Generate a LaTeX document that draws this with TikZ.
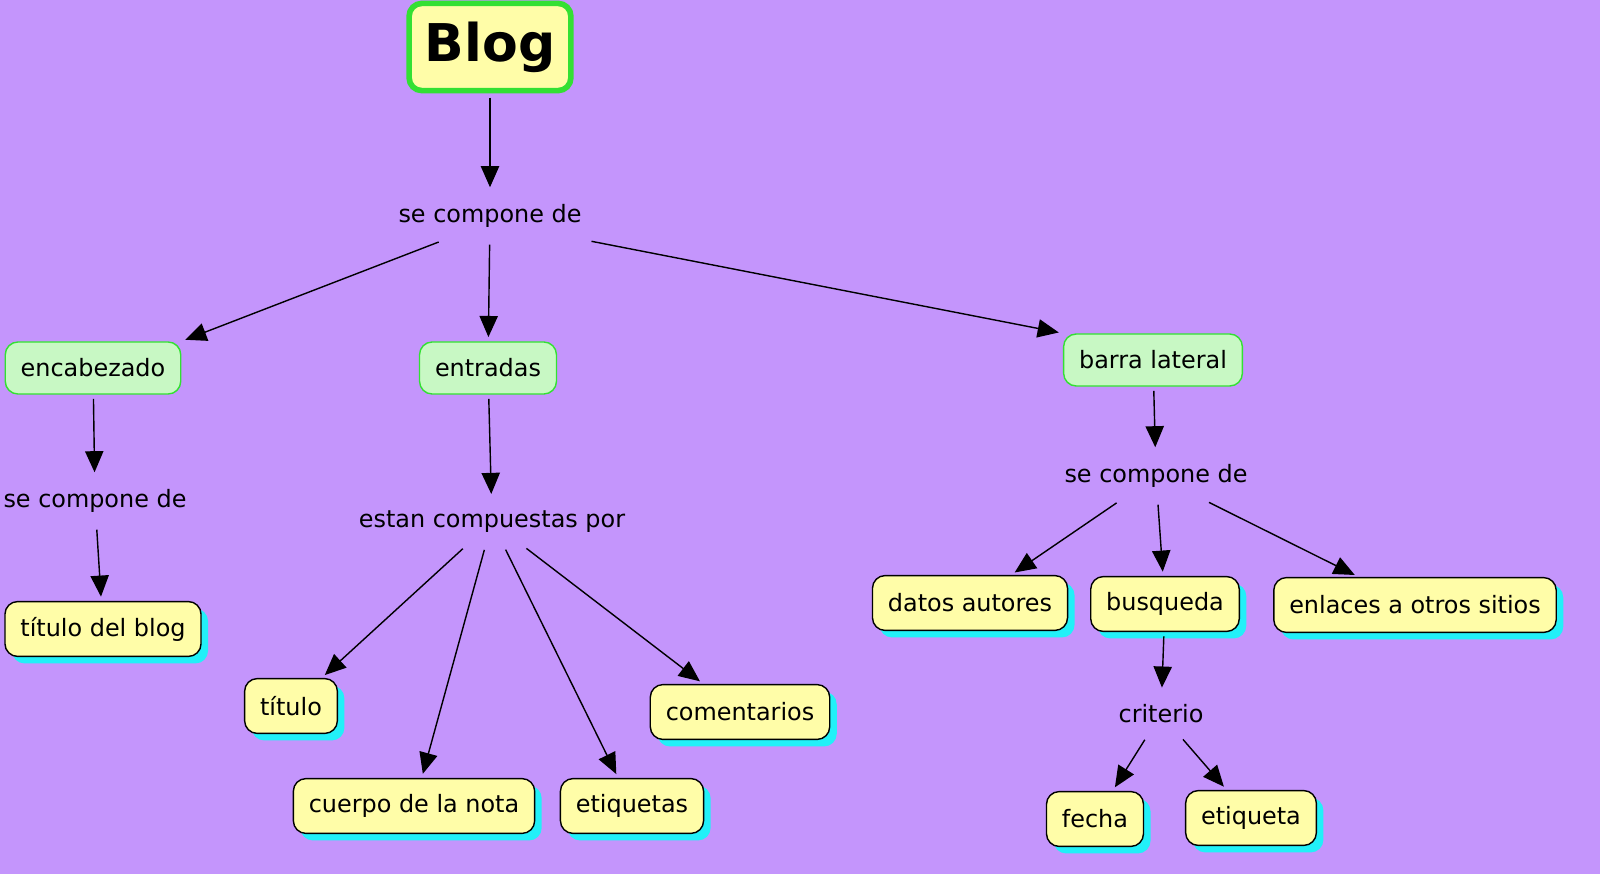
\documentclass[tikz,border=0pt]{standalone}
\usepackage{fontspec}
\setmainfont{DejaVu Sans}
\usetikzlibrary{arrows.meta,shadows}
\definecolor{bg}{HTML}{C495FC}
\definecolor{yel}{HTML}{FFFDA8}
\definecolor{lgreen}{HTML}{C8F8C4}
\definecolor{bgreen}{HTML}{33E033}
\definecolor{sh}{HTML}{22F0F8}
\begin{document}
\begin{tikzpicture}[x=0.025cm,y=-0.025cm,
  font=\fontsize{17pt}{19pt}\selectfont,
  concept/.style={draw=black,line width=1pt,fill=yel,rounded corners=9pt,minimum height=39pt,inner xsep=11pt,
    drop shadow={shadow xshift=5pt,shadow yshift=-5pt,fill=sh,opacity=1}},
  gbox/.style={draw=bgreen,line width=1pt,fill=lgreen,rounded corners=9pt,minimum height=37pt,inner xsep=11pt},
  lbl/.style={inner xsep=4pt,inner ysep=9pt},
  arr/.style={-{Triangle[length=15pt,width=13pt]},line width=1pt,shorten >=3pt,shorten <=3pt}]
\fill[bg] (0,0) rectangle (1600,874);
\useasboundingbox (0,0) rectangle (1600,874);
\node[draw=bgreen,line width=4pt,fill=yel,rounded corners=9pt,minimum width=115pt,minimum height=62pt,font=\fontsize{37pt}{40pt}\selectfont\bfseries] (blog) at (490,47) {Blog};
\node[lbl] (s1) at (490,216) {se compone de};
\node[gbox] (enc) at (93,368) {encabezado};
\node[gbox] (ent) at (488,368) {entradas};
\node[gbox] (bar) at (1153,360) {barra lateral};
\node[lbl] (s2) at (95,501) {se compone de};
\node[concept] (tb) at (103,629) {título del blog};
\node[lbl] (ecp) at (492,522) {estan compuestas por};
\node[concept] (tit) at (291,706) {título};
\node[concept] (cue) at (414,806) {cuerpo de la nota};
\node[concept] (eti) at (632,806) {etiquetas};
\node[concept] (com) at (740,712) {comentarios};
\node[lbl] (s3) at (1156,476) {se compone de};
\node[concept] (dat) at (970,603) {datos autores};
\node[concept] (bus) at (1165,604) {busqueda};
\node[concept] (enl) at (1415,605) {enlaces a otros sitios};
\node[lbl] (cri) at (1161,714) {criterio};
\node[concept] (fec) at (1095,819) {fecha};
\node[concept] (etq) at (1251,818) {etiqueta};
\draw[arr] (blog) -- (s1);
\draw[arr] (s1.south west) ++(50,0) coordinate (a1) -- (enc.north east);
\draw[arr] (s1) -- (ent);
\draw[arr] (s1.south east) -- (bar.north west);
\draw[arr] (enc) -- (s2);
\draw[arr] (s2) -- (tb);
\draw[arr] (ent) -- (ecp);
\draw[arr] (ecp) -- (tit);
\draw[arr] (ecp) -- (cue);
\draw[arr] (ecp) -- (eti);
\draw[arr] (ecp) -- (com);
\draw[arr] (bar) -- (s3);
\draw[arr] (s3) -- (dat);
\draw[arr] (s3) -- (bus);
\draw[arr] (s3) -- (enl);
\draw[arr] (bus) -- (cri);
\draw[arr] (cri) -- (fec);
\draw[arr] (cri) -- (etq);
\end{tikzpicture}
\end{document}
